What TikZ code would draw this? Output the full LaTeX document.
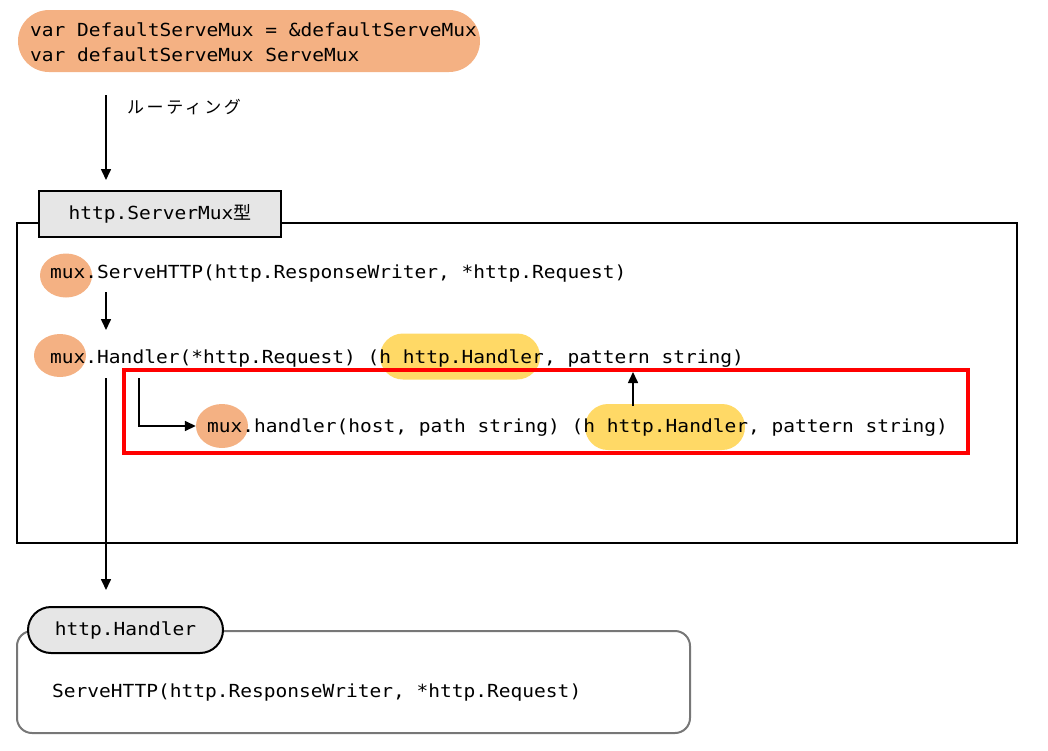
\documentclass[tikz,border=0pt]{standalone}
\usepackage{fontspec}
\usetikzlibrary{arrows.meta,calc,shapes.geometric}
\newfontfamily\codefont[FakeStretch=1.085]{DejaVu Sans Mono}
\newfontfamily\jpfont{Noto Sans CJK JP}
\newfontfamily\jplab[LetterSpace=15]{Noto Sans CJK JP}
\definecolor{orangehl}{HTML}{F4B183}
\definecolor{yellowhl}{HTML}{FFD966}
\definecolor{tabgray}{HTML}{E6E6E6}
\definecolor{boxgray}{HTML}{777777}
\begin{document}
\begin{tikzpicture}[x=1pt,y=-1pt,
  code/.style={font=\codefont\fontsize{18}{24}\selectfont, inner sep=0pt, anchor=base west},
  arr/.style={-{Triangle[length=11pt,width=10pt]}, line width=1.6pt},
  muxhl/.style={ellipse, fill=orangehl, inner sep=0pt},
  yhl/.style={rectangle, rounded corners=23pt, fill=yellowhl, inner sep=0pt, minimum width=160pt, minimum height=46pt},
  tabbox/.style={draw=black, line width=2pt, fill=tabgray, inner sep=0pt},
]
\path[use as bounding box] (0,0) rectangle (1048,750);

% top pill
\node[rectangle, rounded corners=31pt, fill=orangehl, minimum width=462pt, minimum height=62pt, inner sep=0pt] (top) at (249,41) {};
\node[code] (t1) at (30,36.7) {var DefaultServeMux = \&defaultServeMux};
\node[code] (t2) at (30,61) {var defaultServeMux ServeMux};

% routing arrow
\coordinate (a1s) at (106,95);
\coordinate (a1e) at (106,180);
\draw[arr] (a1s) -- (a1e);
\node[font=\jplab\fontsize{17}{20}\selectfont, anchor=west, inner sep=0pt] (route) at (127,107) {ルーティング};

% ServerMux frame
\node[draw=black, line width=2pt, minimum width=1000pt, minimum height=320pt, inner sep=0pt] (frame) at (517,383) {};
\node[tabbox, minimum width=242pt, minimum height=46pt] (tab) at (160,214) {\codefont\fontsize{18}{24}\selectfont http.ServerMux{\jpfont 型}};

% highlights
\node[muxhl, minimum width=52pt, minimum height=44pt] (e1) at (66,275.5) {};
\node[muxhl, minimum width=52pt, minimum height=43pt] (e2) at (60,355.5) {};
\node[muxhl, minimum width=52pt, minimum height=44pt] (e3) at (222,426) {};
\node[yhl] (y2) at (460,356.5) {};
\node[yhl] (y3) at (665,427) {};

% red box
\node[draw=red, line width=3.5pt, minimum width=844pt, minimum height=83pt, inner sep=0pt] (redbox) at (546,411.5) {};

% code lines
\node[code] (l1) at (50,278) {mux.ServeHTTP(http.ResponseWriter, *http.Request)};
\node[code] (l2) at (50,363) {mux.Handler(*http.Request) (h http.Handler, pattern string)};
\node[code] (l3) at (207,432) {mux.handler(host, path string) (h http.Handler, pattern string)};

% arrows inside
\coordinate (a2s) at (106,292);
\coordinate (a2e) at (106,330);
\draw[arr] (a2s) -- (a2e);
\coordinate (a3s) at (106,378);
\coordinate (a3e) at (106,590);
\draw[arr] (a3s) -- (a3e);
\coordinate (a4s) at (139,378);
\draw[arr] (a4s) |- (e3.west);
\coordinate (a5s) at ($(y3.north)+(-32,2)$);
\coordinate (a5e) at (633,372);
\draw[arr] (a5s) -- (a5e);

% bottom handler box
\node[draw=boxgray, line width=2pt, rounded corners=15pt, minimum width=673pt, minimum height=102pt, inner sep=0pt] (hbox) at (353.5,682) {};
\node[tabbox, rounded corners=23pt, minimum width=195pt, minimum height=46pt] (htab) at (125.5,630) {\codefont\fontsize{18}{24}\selectfont http.Handler};
\node[code] (hl) at (52,697) {ServeHTTP(http.ResponseWriter, *http.Request)};
\end{tikzpicture}
\end{document}
